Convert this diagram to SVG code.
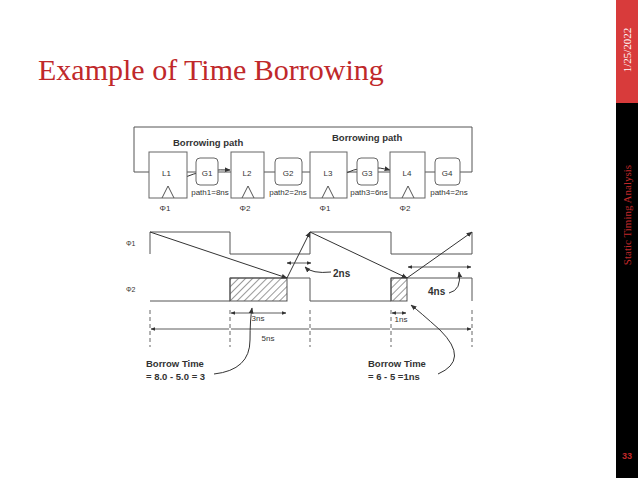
<svg xmlns="http://www.w3.org/2000/svg" width="638" height="478" viewBox="0 0 638 478">
<defs>
<marker id="ah" viewBox="0 0 10 10" refX="9" refY="5" markerWidth="6" markerHeight="6" orient="auto-start-reverse"><path d="M0,1 L10,5 L0,9 z" fill="#333"/></marker>
<pattern id="hatch" width="5" height="5" patternUnits="userSpaceOnUse" patternTransform="rotate(45)"><line x1="0" y1="0" x2="0" y2="5" stroke="#555" stroke-width="1.2"/></pattern>
<style>
.ln{fill:none;stroke:#555;stroke-width:1}
.bx{fill:#fff;stroke:#666;stroke-width:1}
.t{font-family:"Liberation Sans",Arial,sans-serif;fill:#333}
.s{font-size:8px}
.b{font-size:9.5px;font-weight:bold}
.dash{stroke:#666;stroke-width:1;stroke-dasharray:4,3;fill:none}
.ar{fill:none;stroke:#333;stroke-width:1;marker-end:url(#ah)}
.da{fill:none;stroke:#333;stroke-width:0.8;marker-end:url(#ah);marker-start:url(#ah)}
</style>
</defs>
<rect width="638" height="478" fill="#fff"/>
<rect x="616" y="0" width="22" height="103" fill="#d83b3b"/>
<rect x="616" y="103" width="22" height="375" fill="#000"/>
<text transform="translate(631,50) rotate(-90)" text-anchor="middle" font-family="Liberation Serif,serif" font-size="11" fill="#fff">1/25/2022</text>
<text transform="translate(631,215) rotate(-90)" text-anchor="middle" font-family="Liberation Serif,serif" font-size="11" fill="#c0282a">Static Timing Analysis</text>
<text x="627" y="459" text-anchor="middle" font-family="Liberation Sans,sans-serif" font-size="9" font-weight="bold" fill="#c0282a">33</text>
<text x="38" y="80" font-family="Liberation Serif,serif" font-size="30" fill="#c0282a">Example of Time Borrowing</text>

<g id="connectors">
<path class="ln" d="M134,172 V127 H472 V172 M134,172 H149 M187,172 H196 M218,172 H231 M264,172 H275 M302,172 H310 M347,172 H357 M378,172 H390 M425,172 H435 M460,172 H472"/>
<path class="ar" d="M165,190 Q190,168 230,170"/>
<path class="ar" d="M325,190 Q350,160 390,170"/>
</g>
<g id="L1"><rect class="bx" x="149" y="152" width="38" height="46"/><path class="ln" d="M162,198 L168,186 L174,198"/><text class="t s" x="162" y="176">L1</text><text class="t s" x="165" y="211" text-anchor="middle">Φ1</text></g>
<g id="G1"><rect class="bx" x="196" y="158" width="22" height="27" rx="4"/><text class="t s" x="207" y="176" text-anchor="middle">G1</text><text class="t s" x="210" y="195" text-anchor="middle">path1=8ns</text></g>
<g id="L2"><rect class="bx" x="231" y="152" width="33" height="46"/><path class="ln" d="M242,198 L248,186 L254,198"/><text class="t s" x="247" y="176" text-anchor="middle">L2</text><text class="t s" x="245" y="211" text-anchor="middle">Φ2</text></g>
<g id="G2"><rect class="bx" x="275" y="158" width="27" height="27" rx="4"/><text class="t s" x="288" y="176" text-anchor="middle">G2</text><text class="t s" x="288" y="195" text-anchor="middle">path2=2ns</text></g>
<g id="L3"><rect class="bx" x="310" y="152" width="37" height="46"/><path class="ln" d="M322,198 L328,186 L334,198"/><text class="t s" x="328" y="176" text-anchor="middle">L3</text><text class="t s" x="325" y="211" text-anchor="middle">Φ1</text></g>
<g id="G3"><rect class="bx" x="357" y="158" width="21" height="27" rx="4"/><text class="t s" x="367" y="176" text-anchor="middle">G3</text><text class="t s" x="369" y="195" text-anchor="middle">path3=6ns</text></g>
<g id="L4"><rect class="bx" x="390" y="152" width="35" height="46"/><path class="ln" d="M402,198 L408,186 L414,198"/><text class="t s" x="407" y="176" text-anchor="middle">L4</text><text class="t s" x="405" y="211" text-anchor="middle">Φ2</text></g>
<g id="G4"><rect class="bx" x="435" y="158" width="25" height="27" rx="4"/><text class="t s" x="447" y="176" text-anchor="middle">G4</text><text class="t s" x="449" y="195" text-anchor="middle">path4=2ns</text></g>
<text class="t b" x="173" y="146">Borrowing path</text>
<text class="t b" x="332" y="141">Borrowing path</text>

<g id="timing">
<text class="t" font-size="7" x="126" y="246">Φ1</text>
<text class="t" font-size="7" x="126" y="292">Φ2</text>
<rect x="230" y="278" width="57" height="23" fill="url(#hatch)" stroke="#555"/>
<rect x="391" y="278" width="16" height="23" fill="url(#hatch)" stroke="#555"/>
<path class="ln" d="M150,254 V232 H230 V254 H310 V232 H391 V254 H472 V232"/>
<path class="ln" d="M150,301 H230 V278 H310 V301 H391 V278 H472 V301"/>
<path class="ar" d="M150,232 L287,278"/>
<path class="ar" d="M287,278 L310,232"/>
<path class="ar" d="M310,232 L407,278"/>
<path class="ar" d="M407,278 L472,232"/>
<path class="da" d="M287,263 H311"/>
<path class="ar" d="M331,272 Q312,274 305,267"/>
<text class="t" font-size="10" font-weight="bold" x="333" y="277">2ns</text>
<path class="da" d="M408,267 H471"/>
<text class="t" font-size="10" font-weight="bold" x="428" y="295">4ns</text>
<path class="ar" d="M449,293 Q462,290 459,272"/>
<path class="dash" d="M150,310 V347 M230,310 V347 M310,310 V347 M391,310 V347 M472,310 V347"/>
<path class="da" d="M231,313 H286"/>
<text class="t s" x="258" y="321" text-anchor="middle">3ns</text>
<path class="da" d="M392,313 H406"/>
<text class="t s" x="401" y="322" text-anchor="middle">1ns</text>
<path class="da" d="M151,329 H229 M231,329 H309 M311,329 H390 M392,329 H471"/>
<text class="t s" x="268" y="341" text-anchor="middle">5ns</text>
<text class="t b" x="146" y="367">Borrow Time</text>
<text class="t b" x="146" y="380">= 8.0 - 5.0 = 3</text>
<text class="t b" x="368" y="367">Borrow Time</text>
<text class="t b" x="368" y="380">= 6 - 5 =1ns</text>
<path class="ar" d="M214,374 Q250,370 250,340 Q250,320 252,308"/>
<path class="ar" d="M438,374 Q470,360 440,330 Q420,312 411,305"/>
</g>
</svg>
